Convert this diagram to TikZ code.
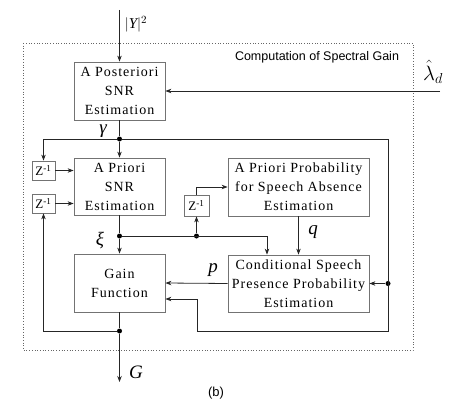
\documentclass[tikz,border=0pt]{standalone}
\usepackage{fontspec}
\setmainfont{Liberation Serif}
\newfontfamily\boxfont[LetterSpace=7]{Liberation Serif}
\newfontfamily\sansf{Liberation Sans}
\usetikzlibrary{arrows.meta}
\tikzset{
  blk/.style={draw=black!55, line width=0.8pt, fill=white, align=center, inner sep=0pt,
    font=\boxfont\fontsize{14}{19}\selectfont},
  zbox/.style={draw=black!55, line width=0.8pt, fill=white, inner sep=0pt,
    minimum width=23pt, minimum height=19pt, font=\fontsize{13}{14}\selectfont},
  wire/.style={draw=black!85, line width=0.8pt},
  arr/.style={wire, -{Stealth[length=6pt,width=4.5pt]}},
  jdot/.style={circle, fill=black, inner sep=0pt, minimum size=5pt},
  mlab/.style={font=\fontsize{19}{19}\selectfont\itshape, inner sep=0pt},
}
\begin{document}
\begin{tikzpicture}[x=1pt,y=-1pt]
\useasboundingbox (0,0) rectangle (455,404);
% frame
\draw[black!60, line width=0.7pt, dotted] (23,43) rectangle (413,350);
\node[font=\sansf\fontsize{12.5}{14}\selectfont, anchor=center] (title) at (317,57) {Computation of Spectral Gain};

% blocks
\node[blk, minimum width=91pt, minimum height=58pt] (post) at (119.5,91) {A Posteriori\\SNR\\Estimation};
\node[blk, minimum width=91pt, minimum height=57pt] (pri) at (119.5,186.5) {A Priori\\SNR\\Estimation};
\node[blk, minimum width=91pt, minimum height=58pt] (gain) at (119.5,283) {Gain\\Function};
\node[blk, minimum width=141pt, minimum height=58pt] (app) at (298.5,187) {A Priori Probability\\for Speech Absence\\Estimation};
\node[blk, minimum width=141pt, minimum height=57pt] (cspp) at (298.5,283.5) {Conditional Speech\\Presence Probability\\Estimation};
\node[zbox] (z1) at (43.5,170.5) {Z\textsuperscript{-1}};
\node[zbox] (z2) at (43.5,203.5) {Z\textsuperscript{-1}};
\node[zbox, minimum width=25pt, minimum height=21pt] (z3) at (196.5,205.5) {Z\textsuperscript{-1}};

% coordinates
\coordinate (yin) at (119.5,10);
\coordinate (lam) at (440,91);
\node[jdot] (jg) at (119.5,139) {};
\node[jdot] (jx) at (119.5,236) {};
\node[jdot] (jz) at (196.5,236) {};
\node[jdot] (jc) at (388,283.5) {};
\node[jdot] (jG) at (119.5,331) {};
\coordinate (gout) at (119.5,382);
\coordinate (cr1) at (388,139);
\coordinate (cr2) at (388,331);
\coordinate (cb1) at (197,331);
\coordinate (cb2) at (197,299);
\coordinate (xk) at (267,236);

% connectors
\draw[arr] (yin) -- (post.north);
\draw[arr] (lam) -- (post.east);
\draw[wire] (post.south) -- (jg);
\draw[arr] (jg) -- (pri.north);
\draw[arr] (jg) -| (z1.north);
\draw[wire] (jg) -- (cr1) -- (cr2) -- (cb1) -- (cb2);
\draw[arr] (cb2) -- (cb2 -| gain.east);
\draw[arr] (jc) -- (cspp.east);
\draw[arr] (z1.east) -- (z1.east -| pri.west);
\draw[arr] (z2.east) -- (z2.east -| pri.west);
\draw[wire] (pri.south) -- (jx);
\draw[arr] (jx) -- (gain.north);
\draw[wire] (jx) -- (xk);
\draw[arr] (xk) -- (xk |- cspp.north);
\draw[arr] (jz) -- (z3.south);
\draw[arr] (z3.north) |- (app.west);
\draw[arr] (app.south) -- (cspp.north);
\draw[arr] (cspp.west) -- (gain.east);
\draw[wire] (gain.south) -- (jG);
\draw[arr] (jG) -- (gout);
\draw[arr] (jG) -| (z2.south);

% labels
\node[font=\fontsize{15}{15}\selectfont, inner sep=0pt] (ylab) at (136,24) {$\vert\mathit{Y}\vert^{2}$};
\node[font=\fontsize{20}{20}\selectfont, inner sep=0pt] (lamlab) at (433,72) {$\hat{\lambda}_{d}$};
\node[mlab] (glab) at (103,131) {γ};
\node[mlab] (xlab) at (100,241) {ξ};
\node[mlab] (qlab) at (313,232) {q};
\node[mlab] (plab) at (213,270) {p};
\node[mlab] (Glab) at (136,372) {G};
\node[font=\sansf\fontsize{13}{14}\selectfont, inner sep=0pt] (blab) at (216,393) {(b)};
\end{tikzpicture}
\end{document}
